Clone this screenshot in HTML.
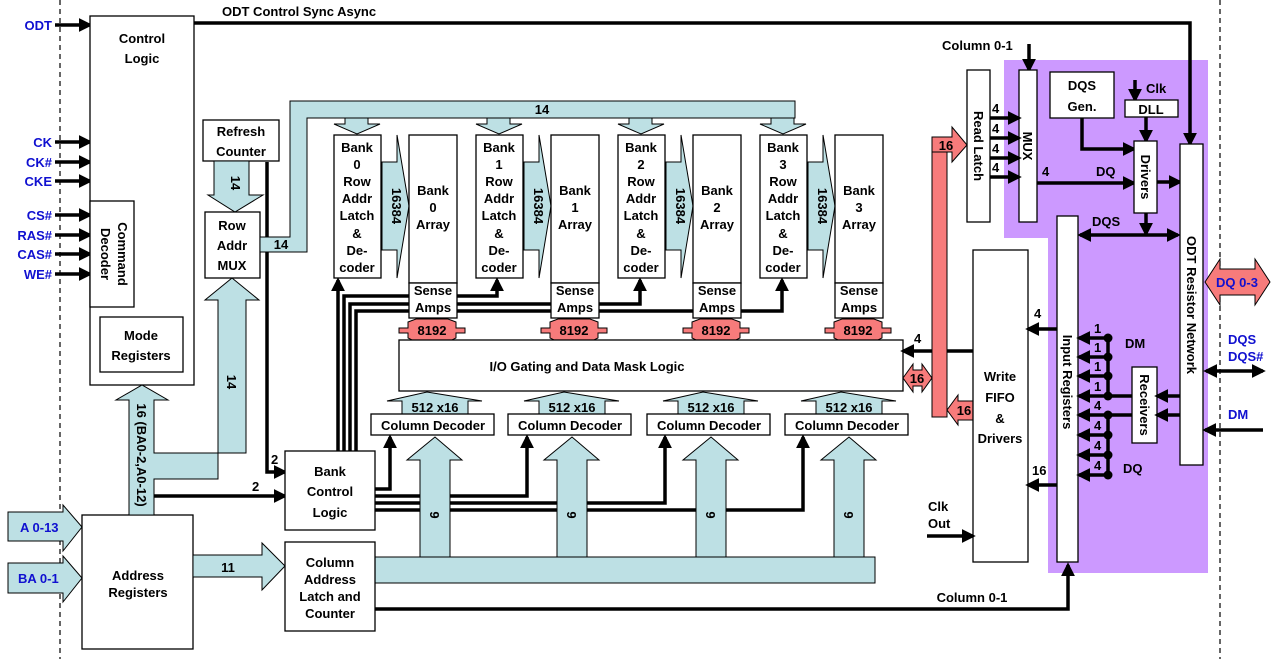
<!DOCTYPE html>
<html><head><meta charset="utf-8"><style>
html,body{margin:0;padding:0;background:#fff;}
svg{display:block;}
text{font-family:"Liberation Sans",Arial,sans-serif;font-weight:bold;font-size:13px;fill:#000;}
.c{text-anchor:middle;}
.b{fill:#1010d0;}
.bx{fill:#fff;stroke:#000;stroke-width:1.3;}
.fa{fill:#bde0e4;stroke:#000;stroke-width:1;}
.ra{fill:#f77b7b;stroke:#000;stroke-width:1;}
.ln{stroke:#000;stroke-width:3.5;fill:none;}
</style></head><body>
<svg width="1273" height="659" viewBox="0 0 1273 659" xmlns="http://www.w3.org/2000/svg">
<defs>
<marker id="ah" markerWidth="4" markerHeight="4" refX="3.2" refY="2" orient="auto" markerUnits="strokeWidth"><path d="M0,0 L4,2 L0,4 z" fill="#000"/></marker>
<marker id="as" markerWidth="4" markerHeight="4" refX="0.8" refY="2" orient="auto" markerUnits="strokeWidth"><path d="M4,0 L0,2 L4,4 z" fill="#000"/></marker>
<g id="r8192">
<polygon class="ra" points="399,328 408,328 408,322 416,319 448,319 456,322 456,328 465,328 465,333 456,333 456,338 448,342 416,342 408,338 408,333 399,333"/>
<text class="c" x="432" y="335">8192</text>
</g>
</defs>

<path d="M1004,60 H1208 V573 H1048 V238 H1004 Z" fill="#cc99ff"/>

<line x1="60" y1="0" x2="60" y2="659" stroke="#000" stroke-width="1.2" stroke-dasharray="5,4"/>
<line x1="1220" y1="0" x2="1220" y2="659" stroke="#000" stroke-width="1.2" stroke-dasharray="5,4"/>

<g>
<text x="52" y="30" text-anchor="end" class="b">ODT</text>
<text x="52" y="147" text-anchor="end" class="b">CK</text>
<text x="52" y="167" text-anchor="end" class="b">CK#</text>
<text x="52" y="186" text-anchor="end" class="b">CKE</text>
<text x="52" y="220" text-anchor="end" class="b">CS#</text>
<text x="52" y="240" text-anchor="end" class="b">RAS#</text>
<text x="52" y="259" text-anchor="end" class="b">CAS#</text>
<text x="52" y="279" text-anchor="end" class="b">WE#</text>
<line class="ln" x1="55" y1="25" x2="90" y2="25" marker-end="url(#ah)"/>
<line class="ln" x1="55" y1="142" x2="90" y2="142" marker-end="url(#ah)"/>
<line class="ln" x1="55" y1="162" x2="90" y2="162" marker-end="url(#ah)"/>
<line class="ln" x1="55" y1="181" x2="90" y2="181" marker-end="url(#ah)"/>
<line class="ln" x1="55" y1="215" x2="90" y2="215" marker-end="url(#ah)"/>
<line class="ln" x1="55" y1="235" x2="90" y2="235" marker-end="url(#ah)"/>
<line class="ln" x1="55" y1="254" x2="90" y2="254" marker-end="url(#ah)"/>
<line class="ln" x1="55" y1="274" x2="90" y2="274" marker-end="url(#ah)"/>
</g>

<rect class="bx" x="90" y="16" width="104" height="369"/>
<text class="c" x="142" y="43">Control</text>
<text class="c" x="142" y="63">Logic</text>
<rect class="bx" x="90" y="201" width="44" height="106"/>
<text class="c" transform="translate(118,254) rotate(90)">Command</text>
<text class="c" transform="translate(101,254) rotate(90)">Decoder</text>
<rect class="bx" x="100" y="317" width="83" height="55"/>
<text class="c" x="141" y="340">Mode</text>
<text class="c" x="141" y="360">Registers</text>

<text x="222" y="16">ODT Control Sync Async</text>
<path class="ln" d="M194,23 H1190 V144" marker-end="url(#ah)"/>

<polygon class="fa" points="8,512 63,512 63,505 82,527 63,551 63,541 8,541"/>
<text x="20" y="532" class="b">A 0-13</text>
<polygon class="fa" points="8,563 63,563 63,556 82,578 63,602 63,593 8,593"/>
<text x="18" y="583" class="b">BA 0-1</text>
<rect class="bx" x="82" y="515" width="111" height="134"/>
<text class="c" x="138" y="580">Address</text>
<text class="c" x="138" y="597">Registers</text>

<polygon class="fa" points="129,515 129,400 116,400 142,385 168,400 154,400 154,453 246,453 246,300 259,300 232,278 205,300 218,300 218,479 154,479 154,515"/>
<text class="c" transform="translate(137,455) rotate(90)">16 (BA0-2,A0-12)</text>
<text class="c" transform="translate(227,382) rotate(90)">14</text>
<line class="ln" x1="154" y1="496" x2="285" y2="496" marker-end="url(#ah)"/>
<text x="252" y="491">2</text>

<polygon class="fa" points="193,555 262,555 262,543 285,566 262,590 262,577 193,577"/>
<text class="c" x="228" y="572">11</text>

<rect class="bx" x="203" y="120" width="76" height="41"/>
<text class="c" x="241" y="136">Refresh</text>
<text class="c" x="241" y="156">Counter</text>
<polygon class="fa" points="214,161 249,161 249,195 263,195 235,212 208,195 214,195"/>
<text class="c" transform="translate(231,183) rotate(90)">14</text>
<path class="ln" d="M267,162 V472 H285" marker-end="url(#ah)"/>
<text x="271" y="464">2</text>
<rect class="bx" x="205" y="212" width="55" height="66"/>
<text class="c" x="232" y="230">Row</text>
<text class="c" x="232" y="250">Addr</text>
<text class="c" x="232" y="270">MUX</text>

<polygon class="fa" points="260,237 290,237 290,101 795,101 795,118 307,118 307,252 260,252"/>
<text class="c" x="281" y="249">14</text>
<text class="c" x="542" y="114">14</text>

<path class="ln" d="M338,451 V280" marker-end="url(#ah)"/>
<path class="ln" d="M344,451 V296 H497 V280" marker-end="url(#ah)"/>
<path class="ln" d="M350,451 V304 H640 V280" marker-end="url(#ah)"/>
<path class="ln" d="M356,451 V311 H782 V280" marker-end="url(#ah)"/>

<g>
<polygon class="fa" points="345,118 368,118 368,124 380,124 357,134 334,124 345,124"/>
<rect class="bx" x="334" y="135" width="47" height="143"/>
<polygon class="fa" points="382,162 382,250 397,250 397,278 409,206 397,135 397,162"/>
<text class="c" transform="translate(392,206) rotate(90)">16384</text>
<rect class="bx" x="409" y="135" width="48" height="148"/>
<rect class="bx" x="409" y="283" width="48" height="35"/>
<use href="#r8192"/>
<text class="c" x="357" y="152">Bank</text><text class="c" x="357" y="169">0</text>
<text class="c" x="357" y="186">Row</text><text class="c" x="357" y="203">Addr</text>
<text class="c" x="357" y="220">Latch</text><text class="c" x="357" y="238">&amp;</text>
<text class="c" x="357" y="255">De-</text><text class="c" x="357" y="272">coder</text>
<text class="c" x="433" y="195">Bank</text><text class="c" x="433" y="212">0</text><text class="c" x="433" y="229">Array</text>
<text class="c" x="433" y="295">Sense</text><text class="c" x="433" y="312">Amps</text>
</g>
<g transform="translate(142,0)">
<polygon class="fa" points="345,118 368,118 368,124 380,124 357,134 334,124 345,124"/>
<rect class="bx" x="334" y="135" width="47" height="143"/>
<polygon class="fa" points="382,162 382,250 397,250 397,278 409,206 397,135 397,162"/>
<text class="c" transform="translate(392,206) rotate(90)">16384</text>
<rect class="bx" x="409" y="135" width="48" height="148"/>
<rect class="bx" x="409" y="283" width="48" height="35"/>
<use href="#r8192"/>
<text class="c" x="357" y="152">Bank</text><text class="c" x="357" y="169">1</text>
<text class="c" x="357" y="186">Row</text><text class="c" x="357" y="203">Addr</text>
<text class="c" x="357" y="220">Latch</text><text class="c" x="357" y="238">&amp;</text>
<text class="c" x="357" y="255">De-</text><text class="c" x="357" y="272">coder</text>
<text class="c" x="433" y="195">Bank</text><text class="c" x="433" y="212">1</text><text class="c" x="433" y="229">Array</text>
<text class="c" x="433" y="295">Sense</text><text class="c" x="433" y="312">Amps</text>
</g>
<g transform="translate(284,0)">
<polygon class="fa" points="345,118 368,118 368,124 380,124 357,134 334,124 345,124"/>
<rect class="bx" x="334" y="135" width="47" height="143"/>
<polygon class="fa" points="382,162 382,250 397,250 397,278 409,206 397,135 397,162"/>
<text class="c" transform="translate(392,206) rotate(90)">16384</text>
<rect class="bx" x="409" y="135" width="48" height="148"/>
<rect class="bx" x="409" y="283" width="48" height="35"/>
<use href="#r8192"/>
<text class="c" x="357" y="152">Bank</text><text class="c" x="357" y="169">2</text>
<text class="c" x="357" y="186">Row</text><text class="c" x="357" y="203">Addr</text>
<text class="c" x="357" y="220">Latch</text><text class="c" x="357" y="238">&amp;</text>
<text class="c" x="357" y="255">De-</text><text class="c" x="357" y="272">coder</text>
<text class="c" x="433" y="195">Bank</text><text class="c" x="433" y="212">2</text><text class="c" x="433" y="229">Array</text>
<text class="c" x="433" y="295">Sense</text><text class="c" x="433" y="312">Amps</text>
</g>
<g transform="translate(426,0)">
<polygon class="fa" points="345,118 368,118 368,124 380,124 357,134 334,124 345,124"/>
<rect class="bx" x="334" y="135" width="47" height="143"/>
<polygon class="fa" points="382,162 382,250 397,250 397,278 409,206 397,135 397,162"/>
<text class="c" transform="translate(392,206) rotate(90)">16384</text>
<rect class="bx" x="409" y="135" width="48" height="148"/>
<rect class="bx" x="409" y="283" width="48" height="35"/>
<use href="#r8192"/>
<text class="c" x="357" y="152">Bank</text><text class="c" x="357" y="169">3</text>
<text class="c" x="357" y="186">Row</text><text class="c" x="357" y="203">Addr</text>
<text class="c" x="357" y="220">Latch</text><text class="c" x="357" y="238">&amp;</text>
<text class="c" x="357" y="255">De-</text><text class="c" x="357" y="272">coder</text>
<text class="c" x="433" y="195">Bank</text><text class="c" x="433" y="212">3</text><text class="c" x="433" y="229">Array</text>
<text class="c" x="433" y="295">Sense</text><text class="c" x="433" y="312">Amps</text>
</g>

<rect class="bx" x="399" y="340" width="504" height="51"/>
<text class="c" x="587" y="371">I/O Gating and Data Mask Logic</text>

<rect class="fa" x="375" y="557" width="500" height="26"/>
<path class="ln" d="M375,489 H390 V437" marker-end="url(#ah)"/>
<path class="ln" d="M375,496 H527 V437" marker-end="url(#ah)"/>
<path class="ln" d="M375,503 H665 V437" marker-end="url(#ah)"/>
<path class="ln" d="M375,510 H803 V437" marker-end="url(#ah)"/>

<g>
<polygon class="fa" points="420,557 420,460 407,460 435,437 462,460 450,460 450,557"/>
<text class="c" transform="translate(430,515) rotate(90)">9</text>
<polygon class="fa" points="402,414 402,401 387,401 427,392 482,401 468,401 468,414"/>
<rect class="bx" x="371" y="414" width="123" height="21"/>
<text class="c" x="433" y="430">Column Decoder</text>
<text class="c" x="435" y="412">512 x16</text>
</g>
<g transform="translate(137,0)">
<polygon class="fa" points="420,557 420,460 407,460 435,437 462,460 450,460 450,557"/>
<text class="c" transform="translate(430,515) rotate(90)">9</text>
<polygon class="fa" points="402,414 402,401 387,401 427,392 482,401 468,401 468,414"/>
<rect class="bx" x="371" y="414" width="123" height="21"/>
<text class="c" x="433" y="430">Column Decoder</text>
<text class="c" x="435" y="412">512 x16</text>
</g>
<g transform="translate(276,0)">
<polygon class="fa" points="420,557 420,460 407,460 435,437 462,460 450,460 450,557"/>
<text class="c" transform="translate(430,515) rotate(90)">9</text>
<polygon class="fa" points="402,414 402,401 387,401 427,392 482,401 468,401 468,414"/>
<rect class="bx" x="371" y="414" width="123" height="21"/>
<text class="c" x="433" y="430">Column Decoder</text>
<text class="c" x="435" y="412">512 x16</text>
</g>
<g transform="translate(414,0)">
<polygon class="fa" points="420,557 420,460 407,460 435,437 462,460 450,460 450,557"/>
<text class="c" transform="translate(430,515) rotate(90)">9</text>
<polygon class="fa" points="402,414 402,401 387,401 427,392 482,401 468,401 468,414"/>
<rect class="bx" x="371" y="414" width="123" height="21"/>
<text class="c" x="433" y="430">Column Decoder</text>
<text class="c" x="435" y="412">512 x16</text>
</g>

<rect class="bx" x="285" y="451" width="90" height="79"/>
<text class="c" x="330" y="476">Bank</text>
<text class="c" x="330" y="496">Control</text>
<text class="c" x="330" y="517">Logic</text>
<rect class="bx" x="285" y="542" width="90" height="89"/>
<text class="c" x="330" y="567">Column</text>
<text class="c" x="330" y="584">Address</text>
<text class="c" x="330" y="601">Latch and</text>
<text class="c" x="330" y="618">Counter</text>

<path class="ln" d="M375,609 H1068 V565" marker-end="url(#ah)"/>
<text class="c" x="972" y="602">Column 0-1</text>

<line class="ln" x1="973" y1="351" x2="903" y2="351" marker-end="url(#ah)"/>
<text x="914" y="343">4</text>
<rect class="ra" x="932" y="137" width="15" height="280"/>
<polygon class="ra" points="932,137 952,137 952,127 967,145 952,162 952,152 932,152"/>
<text class="c" x="946" y="150">16</text>
<polygon class="ra" points="903,378 913,364 913,370 922,370 922,364 932,378 922,392 922,386 913,386 913,392"/>
<text class="c" x="917" y="383">16</text>
<polygon class="ra" points="947,410 958,395 958,401 973,401 973,420 958,420 958,425"/>
<text class="c" x="964" y="415">16</text>

<rect class="bx" x="967" y="70" width="23" height="152"/>
<text class="c" transform="translate(974,146) rotate(90)">Read Latch</text>
<text x="942" y="50">Column 0-1</text>
<line class="ln" x1="1029" y1="44" x2="1029" y2="70" marker-end="url(#ah)"/>
<rect class="bx" x="1019" y="70" width="18" height="152"/>
<text class="c" transform="translate(1023,146) rotate(90)">MUX</text>
<line class="ln" x1="990" y1="118" x2="1019" y2="118" marker-end="url(#ah)"/>
<line class="ln" x1="990" y1="138" x2="1019" y2="138" marker-end="url(#ah)"/>
<line class="ln" x1="990" y1="158" x2="1019" y2="158" marker-end="url(#ah)"/>
<line class="ln" x1="990" y1="177" x2="1019" y2="177" marker-end="url(#ah)"/>
<text x="992" y="113">4</text><text x="992" y="133">4</text><text x="992" y="153">4</text><text x="992" y="172">4</text>
<line class="ln" x1="1037" y1="183" x2="1134" y2="183" marker-end="url(#ah)"/>
<text x="1042" y="176">4</text><text x="1096" y="176">DQ</text>

<rect class="bx" x="1050" y="72" width="64" height="46"/>
<text class="c" x="1082" y="90">DQS</text>
<text class="c" x="1082" y="111">Gen.</text>
<path class="ln" d="M1082,118 V149 H1134" marker-end="url(#ah)"/>
<line class="ln" x1="1135" y1="80" x2="1135" y2="100" marker-end="url(#ah)"/>
<text x="1146" y="93">Clk</text>
<rect class="bx" x="1125" y="100" width="53" height="17"/>
<text class="c" x="1151" y="114">DLL</text>
<line class="ln" x1="1146" y1="117" x2="1146" y2="141" marker-end="url(#ah)"/>
<rect class="bx" x="1134" y="141" width="23" height="72"/>
<text class="c" transform="translate(1141,177) rotate(90)">Drivers</text>
<line class="ln" x1="1157" y1="182" x2="1180" y2="182" marker-end="url(#ah)"/>
<line class="ln" x1="1146" y1="213" x2="1146" y2="234" marker-end="url(#ah)"/>
<line class="ln" x1="1080" y1="235" x2="1178" y2="235" marker-start="url(#as)" marker-end="url(#ah)"/>
<text x="1092" y="226">DQS</text>

<rect class="bx" x="1180" y="144" width="23" height="321"/>
<text class="c" transform="translate(1187,305) rotate(90)">ODT Resistor Network</text>

<polygon class="ra" points="1205,282 1220,259 1220,269 1255,269 1255,259 1270,282 1255,305 1255,295 1220,295 1220,305"/>
<text class="c" x="1237" y="287" style="fill:#1010d0">DQ 0-3</text>
<text x="1228" y="344" class="b">DQS</text>
<text x="1228" y="361" class="b">DQS#</text>
<line class="ln" x1="1206" y1="371" x2="1263" y2="371" marker-start="url(#as)" marker-end="url(#ah)"/>
<text x="1228" y="419" class="b">DM</text>
<line class="ln" x1="1263" y1="430" x2="1205" y2="430" marker-end="url(#ah)"/>

<rect class="bx" x="973" y="250" width="55" height="312"/>
<text class="c" x="1000" y="381">Write</text>
<text class="c" x="1000" y="402">FIFO</text>
<text class="c" x="1000" y="423">&amp;</text>
<text class="c" x="1000" y="443">Drivers</text>
<text x="928" y="511">Clk</text>
<text x="928" y="528">Out</text>
<line class="ln" x1="927" y1="536" x2="973" y2="536" marker-end="url(#ah)"/>

<rect class="bx" x="1057" y="216" width="21" height="346"/>
<text class="c" transform="translate(1063,382) rotate(90)">Input Registers</text>
<line class="ln" x1="1057" y1="329" x2="1028" y2="329" marker-end="url(#ah)"/>
<text x="1034" y="318">4</text>
<line class="ln" x1="1057" y1="485" x2="1028" y2="485" marker-end="url(#ah)"/>
<text x="1032" y="475">16</text>

<g>
<line class="ln" x1="1108" y1="338" x2="1108" y2="396"/>
<line class="ln" x1="1108" y1="415" x2="1108" y2="475"/>
<line class="ln" x1="1108" y1="338" x2="1079" y2="338" marker-end="url(#ah)"/>
<line class="ln" x1="1108" y1="357" x2="1079" y2="357" marker-end="url(#ah)"/>
<line class="ln" x1="1108" y1="376" x2="1079" y2="376" marker-end="url(#ah)"/>
<line class="ln" x1="1132" y1="396" x2="1079" y2="396" marker-end="url(#ah)"/>
<line class="ln" x1="1132" y1="415" x2="1079" y2="415" marker-end="url(#ah)"/>
<line class="ln" x1="1108" y1="435" x2="1079" y2="435" marker-end="url(#ah)"/>
<line class="ln" x1="1108" y1="455" x2="1079" y2="455" marker-end="url(#ah)"/>
<line class="ln" x1="1108" y1="475" x2="1079" y2="475" marker-end="url(#ah)"/>
<circle cx="1108" cy="338" r="4.5"/><circle cx="1108" cy="357" r="4.5"/>
<circle cx="1108" cy="376" r="4.5"/><circle cx="1108" cy="396" r="4.5"/>
<circle cx="1108" cy="415" r="4.5"/><circle cx="1108" cy="435" r="4.5"/>
<circle cx="1108" cy="455" r="4.5"/><circle cx="1108" cy="475" r="4.5"/>
<text x="1094" y="333">1</text><text x="1094" y="352">1</text><text x="1094" y="371">1</text><text x="1094" y="391">1</text>
<text x="1094" y="410">4</text><text x="1094" y="430">4</text><text x="1094" y="450">4</text><text x="1094" y="470">4</text>
<text x="1125" y="348">DM</text>
<text x="1123" y="473">DQ</text>
</g>
<rect class="bx" x="1132" y="367" width="25" height="76"/>
<text class="c" transform="translate(1140,405) rotate(90)">Receivers</text>
<line class="ln" x1="1180" y1="396" x2="1157" y2="396" marker-end="url(#ah)"/>
<line class="ln" x1="1180" y1="415" x2="1157" y2="415" marker-end="url(#ah)"/>
</svg>
</body></html>
